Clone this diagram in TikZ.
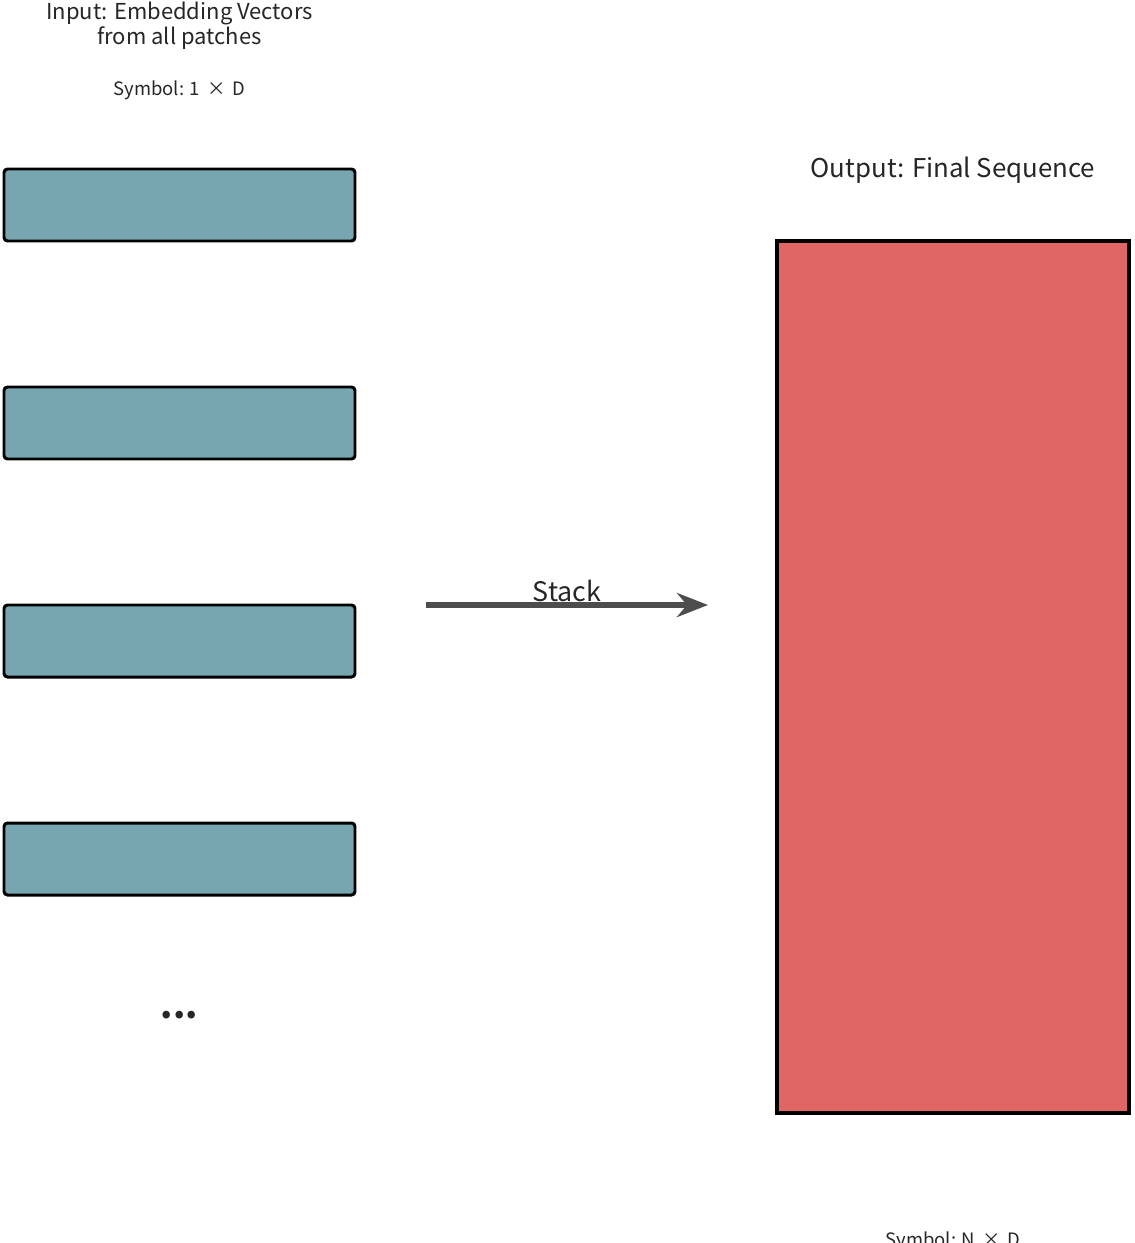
\documentclass[tikz,border=0pt]{standalone}
\usepackage{fontspec}
\setmainfont{Noto Sans CJK JP}
\usepackage{tikz}
\usetikzlibrary{arrows.meta,calc,positioning}
\definecolor{patchteal}{HTML}{77A6B1}
\definecolor{seqred}{HTML}{E06666}
\definecolor{arrowgray}{HTML}{4D4D4D}
\tikzset{
  patchvec/.style={draw,rectangle,rounded corners=2pt,line width=1.7pt,fill=patchteal,minimum width=7.02cm,minimum height=1.44cm,inner sep=0pt},
  seqbox/.style={draw,rectangle,line width=2.2pt,fill=seqred,minimum width=7.04cm,minimum height=17.44cm,inner sep=0pt},
  caption/.style={text=black!85,align=center,inner sep=0pt}
}

\begin{document}
\begin{tikzpicture}
\useasboundingbox (0,0) rectangle (22.68,-24.86);
% input vectors
\node[caption,font=\fontsize{12.5}{14.2}\selectfont] (intitle) at (3.59,-0.52) {Input: Embedding Vectors\\from all patches};
\node[caption,font=\fontsize{10.5}{12}\selectfont] (insym) at (3.59,-1.81) {Symbol: 1 \,×\, D};
\node[patchvec] (vec1) at (3.59,-4.10) {};
\node[patchvec] (vec2) at (3.59,-8.46) {};
\node[patchvec] (vec3) at (3.59,-12.82) {};
\node[patchvec] (vec4) at (3.59,-17.18) {};
\node[caption,font=\fontsize{20}{22}\selectfont\bfseries] (vecdots) at (3.59,-20.30) {...};

% output sequence
\node[caption,font=\fontsize{14.7}{17}\selectfont] (outtitle) at (19.06,-3.40) {Output: Final Sequence};
\node[seqbox] (seq) at (19.06,-13.54) {};
\node[caption,font=\fontsize{10.5}{12}\selectfont,anchor=base] (outsym) at (19.06,-24.93) {Symbol: N \,×\, D};

% stack arrow
\coordinate (stackstart) at (8.52,-12.10);
\coordinate (stackend) at (14.16,-12.10);
\draw[arrowgray,line width=3pt,-{Stealth[length=0.62cm,width=0.48cm,inset=0.2cm]}] (stackstart) -- node[above=0.02cm,text=black!85,font=\fontsize{15.3}{17}\selectfont,inner sep=0pt] (stacklabel) {Stack} (stackend);
\end{tikzpicture}
\end{document}
